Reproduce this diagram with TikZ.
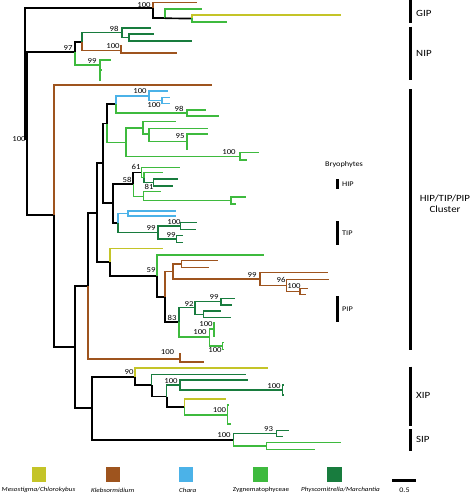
\documentclass[tikz,border=0pt]{standalone}
\usepackage{fontspec}
\setmainfont{Carlito}[FakeStretch=1.15]
\definecolor{cbr}{RGB}{158,84,30}
\definecolor{cye}{RGB}{196,196,40}
\definecolor{cbl}{RGB}{75,178,232}
\definecolor{cgr}{RGB}{62,186,62}
\definecolor{cdg}{RGB}{24,124,62}
\begin{document}
\begin{tikzpicture}[x=1pt,y=-1pt,
  tbk/.style={draw=black,line width=1.7pt},
  tbr/.style={draw=cbr,line width=1.4pt},
  tye/.style={draw=cye,line width=1.4pt},
  tbl/.style={draw=cbl,line width=1.4pt},
  tgr/.style={draw=cgr,line width=1.4pt},
  tdg/.style={draw=cdg,line width=1.4pt},
  sv/.style={font=\fontsize{7.6}{8}\selectfont,inner sep=0pt},
  grp/.style={font=\fontsize{9.5}{11}\selectfont,inner sep=0pt,anchor=west},
  bry/.style={font=\fontsize{7.2}{8}\selectfont,inner sep=0pt},
  leg/.style={font=\fontsize{6.2}{7}\selectfont\itshape,inner sep=0pt},
  bar/.style={line width=3pt},
  sbar/.style={line width=3.5pt}]
\fill[white] (0,0) rectangle (474,495);
\useasboundingbox (0,0) rectangle (474,495);
% ---- internal nodes
\coordinate (R) at (25,73.5);
\coordinate (G) at (153,8);
\coordinate (G2) at (165,18.3);
\coordinate (G3) at (192,18.5);
\coordinate (B) at (27,139);
\coordinate (N) at (75,52);
\coordinate (N1) at (82,41.7);
\coordinate (N3) at (122,32.7);
\coordinate (N5) at (129,37.5);
\coordinate (N4) at (121,50.7);
\coordinate (N2) at (100,65);
\coordinate (C) at (54,215);
\coordinate (D) at (75,347);
\coordinate (E) at (88,286);
\coordinate (E2) at (180,359);
\coordinate (F) at (96.7,213);
\coordinate (H) at (102.7,163.3);
\coordinate (I) at (107,123.5);
\coordinate (I1) at (116,104);
\coordinate (I3) at (149,96);
\coordinate (I5) at (162,100.5);
\coordinate (I4) at (187,113);
\coordinate (I2) at (126,142.5);
\coordinate (I6) at (143,128);
\coordinate (I8) at (149,134);
\coordinate (I9) at (187,141.5);
\coordinate (I7) at (240,156.5);
\coordinate (J) at (113,203.3);
\coordinate (K) at (133.3,184);
\coordinate (K1) at (141.7,172.5);
\coordinate (K3) at (144,177.6);
\coordinate (K4) at (153.3,182.5);
\coordinate (K2) at (143.3,196.7);
\coordinate (K5) at (231,200.5);
\coordinate (L) at (118,223);
\coordinate (L1) at (128,213.5);
\coordinate (L2) at (158,232.3);
\coordinate (L3) at (180.7,226);
\coordinate (L4) at (176.7,239);
\coordinate (Y) at (110,262);
\coordinate (Z) at (157,276);
\coordinate (P) at (165,296.7);
\coordinate (Q) at (173,271.3);
\coordinate (Q1) at (181.7,264);
\coordinate (Q2) at (260,279);
\coordinate (Q3) at (286.7,285.3);
\coordinate (Q4) at (300,291.3);
\coordinate (S) at (179,322);
\coordinate (S1) at (195,307.3);
\coordinate (S3) at (221,301.7);
\coordinate (S4) at (203.3,314.2);
\coordinate (S2) at (209.3,337);
\coordinate (S5) at (214,329);
\coordinate (S6) at (222.7,346);
\coordinate (X) at (91.7,408);
\coordinate (X1) at (135,376.7);
\coordinate (X2) at (151.7,385);
\coordinate (X3) at (166.7,396.5);
\coordinate (X4) at (180,385);
\coordinate (X6) at (282.7,390);
\coordinate (X5) at (184.3,407.3);
\coordinate (X7) at (227.7,415);
\coordinate (W) at (233.3,440);
\coordinate (W1) at (276.7,433.7);
\coordinate (W2) at (266.7,446);
% ---- GIP
\draw[tbk] (R) |- (G); \draw[tbk] (R) |- (B);
\draw[tbr] (G) |- (197,2.7);
\draw[tbk] (G) |- (G2);
\draw[tgr] (G2) |- (202,9);
\draw[tbk] (G2) -- (G3);
\draw[tye] (G3) |- (341,15);
\draw[tgr] (G3) |- (227,22);
% ---- NIP
\draw[tbk] (B) |- (N); \draw[tbk] (B) |- (C);
\draw[tbk] (N) |- (N1); \draw[tgr] (N) |- (N2);
\draw[tdg] (N1) |- (N3); \draw[tbr] (N1) |- (N4);
\draw[tdg] (N3) |- (151,28); \draw[tdg] (N3) |- (N5);
\draw[tdg] (N5) |- (154,34); \draw[tdg] (N5) |- (192,41);
\draw[tbr] (N4) |- (122,46); \draw[tbr] (N4) |- (177,53);
\draw[tgr] (N2) |- (111,60); \draw[tgr] (N2) |- (101,80); \draw[tgr] (N2) |- (102,70);
% ---- big clade
\draw[tbr] (C) |- (212,85); \draw[tbk] (C) |- (D);
\draw[tbk] (D) |- (E); \draw[tbk] (D) |- (X);
\draw[tbk] (E) |- (F); \draw[tbr] (E) |- (E2);
\draw[tbr] (E2) |- (181,353.5); \draw[tbr] (E2) |- (204,362);
\draw[tbk] (F) |- (H); \draw[tbk] (F) |- (Y);
\draw[tbk] (H) |- (I); \draw[tbk] (H) |- (J);
\draw[tbk] (I) |- (I1); \draw[tgr] (I) |- (I2);
\draw[tbl] (I1) |- (I3); \draw[tgr] (I1) |- (I4);
\draw[tbl] (I3) |- (168,91); \draw[tbl] (I3) |- (I5);
\draw[tbl] (I5) |- (170,97.3); \draw[tbl] (I5) |- (170,103.5);
\draw[tgr] (I4) |- (206,110); \draw[tgr] (I4) |- (219,116);
\draw[tgr] (I2) |- (I6); \draw[tgr] (I2) |- (I7);
\draw[tgr] (I6) |- (176,121.7); \draw[tgr] (I6) |- (I8);
\draw[tgr] (I8) |- (208,128.3); \draw[tgr] (I8) |- (I9);
\draw[tgr] (I9) |- (208,134); \draw[tgr] (I9) |- (188,149);
\draw[tgr] (I7) |- (259,152.7); \draw[tgr] (I7) |- (247,160);
\draw[tbk] (J) |- (K); \draw[tbk] (J) |- (L);
\draw[tbk] (K) |- (K1); \draw[tgr] (K) |- (K2);
\draw[tgr] (K1) |- (180,167.7); \draw[tgr] (K1) |- (K3);
\draw[tgr] (K3) |- (163.3,172.7); \draw[tdg] (K3) |- (K4);
\draw[tdg] (K4) |- (178.3,179); \draw[tdg] (K4) |- (172.7,186);
\draw[tgr] (K2) |- (161,191.7); \draw[tgr] (K2) |- (K5);
\draw[tgr] (K5) |- (245.7,197); \draw[tgr] (K5) |- (236,204);
\draw[tbl] (L) |- (L1); \draw[tdg] (L) |- (L2);
\draw[tbl] (L1) |- (176,211); \draw[tbl] (L1) |- (176,216);
\draw[tdg] (L2) |- (L3); \draw[tdg] (L2) |- (L4);
\draw[tdg] (L3) |- (196.7,222.7); \draw[tdg] (L3) |- (195.7,229.3);
\draw[tdg] (L4) |- (183.3,235.7); \draw[tdg] (L4) |- (183.3,242.3);
\draw[tye] (Y) |- (163,248.3); \draw[tbk] (Y) |- (Z);
\draw[tgr] (Z) |- (264.3,255); \draw[tbk] (Z) |- (P);
\draw[tbr] (P) |- (Q); \draw[tbk] (P) |- (S);
\draw[tbr] (Q) |- (Q1); \draw[tbr] (Q) |- (Q2);
\draw[tbr] (Q1) |- (218.3,260.7); \draw[tbr] (Q1) |- (209,267.3);
\draw[tbr] (Q2) |- (327.7,272.7); \draw[tbr] (Q2) |- (Q3);
\draw[tbr] (Q3) |- (329,279.3); \draw[tbr] (Q3) |- (Q4);
\draw[tbr] (Q4) |- (308,288.3); \draw[tbr] (Q4) |- (306,294.3);
\draw[tdg] (S) |- (S1); \draw[tgr] (S) |- (S2);
\draw[tdg] (S1) |- (S3); \draw[tdg] (S1) |- (S4);
\draw[tdg] (S3) |- (235,298.3); \draw[tdg] (S3) |- (231.7,305);
\draw[tdg] (S4) |- (221,311); \draw[tdg] (S4) |- (230.7,317.3);
\draw[tgr] (S2) |- (S5); \draw[tgr] (S2) |- (S6);
\draw[tgr] (S5) |- (215,322.7); \draw[tgr] (S5) |- (215,336);
\draw[tgr] (S6) |- (224,342.7); \draw[tgr] (S6) |- (224,349.3);
% ---- XIP
\draw[tbk] (X) |- (X1); \draw[tbk] (X) |- (W);
\draw[tye] (X1) |- (268.3,368); \draw[tbk] (X1) |- (X2);
\draw[tdg] (X2) |- (245.7,374.5); \draw[tbk] (X2) |- (X3);
\draw[tdg] (X3) |- (X4); \draw[tbk] (X3) |- (X5);
\draw[tdg] (X4) |- (247.7,380); \draw[tdg] (X4) |- (X6);
\draw[tdg] (X6) |- (284,385); \draw[tdg] (X6) |- (284,395);
\draw[tye] (X5) |- (226,399); \draw[tgr] (X5) |- (X7);
\draw[tgr] (X7) |- (229,405); \draw[tgr] (X7) |- (231,424);
% ---- SIP
\draw[tdg] (W) |- (W1); \draw[tgr] (W) |- (W2);
\draw[tdg] (W1) |- (289.3,430.7); \draw[tdg] (W1) |- (282.7,436.7);
\draw[tgr] (W2) |- (340.7,442.7); \draw[tgr] (W2) |- (315,449.3);
% ---- support values
\node[sv] (s1) at (144,5) {100};
\node[sv] (s2) at (114,29) {98};
\node[sv] (s3) at (113,46) {100};
\node[sv] (s4) at (68,48) {97};
\node[sv] (s5) at (92,61) {99};
\node[sv] (s6) at (19,139) {100};
\node[sv] (s7) at (140,91.5) {100};
\node[sv] (s8) at (154,105) {100};
\node[sv] (s9) at (179,109) {98};
\node[sv] (s10) at (180,136) {95};
\node[sv] (s11) at (229,152) {100};
\node[sv] (s12) at (136,167) {61};
\node[sv] (s13) at (127,180) {58};
\node[sv] (s14) at (149,187) {81};
\node[sv] (s15) at (151,228) {99};
\node[sv] (s16) at (174,222) {100};
\node[sv] (s17) at (171,235) {99};
\node[sv] (s18) at (151,270) {59};
\node[sv] (s19) at (252,275) {99};
\node[sv] (s20) at (281,280) {96};
\node[sv] (s21) at (294,286) {100};
\node[sv] (s22) at (189,304) {92};
\node[sv] (s23) at (214,297) {99};
\node[sv] (s24) at (172,317.5) {83};
\node[sv] (s25) at (206,324) {100};
\node[sv] (s26) at (200,332.5) {100};
\node[sv] (s27) at (215,350.5) {100};
\node[sv] (s28) at (167.5,352) {100};
\node[sv] (s29) at (129,372) {90};
\node[sv] (s30) at (171,381) {100};
\node[sv] (s31) at (274,386) {100};
\node[sv] (s32) at (219.5,410.5) {100};
\node[sv] (s33) at (224,435) {100};
\node[sv] (s34) at (268.5,429) {93};
% ---- group bars
\draw[bar] (410,0) -- (410,23.3);
\draw[bar] (410,26.7) -- (410,80);
\draw[bar] (410,89.3) -- (410,350);
\draw[bar] (410,366.7) -- (410,425.7);
\draw[bar] (410,429.3) -- (410,450.7);
\node[grp] (gip) at (416,13) {GIP};
\node[grp] (nip) at (416,53) {NIP};
\node[grp,anchor=center,align=center] (hip) at (445,204) {HIP/TIP/PIP\\Cluster};
\node[grp] (xip) at (416,395) {XIP};
\node[grp] (sip) at (416,439.3) {SIP};
% ---- bryophytes
\node[bry] (bryo) at (344,164.3) {Bryophytes};
\draw[sbar] (337.7,179.3) -- (337.7,189.3);
\draw[sbar] (337.7,221) -- (337.7,245);
\draw[sbar] (337.7,296) -- (337.7,321.7);
\node[bry,anchor=west] (bh) at (342,184.3) {HIP};
\node[bry,anchor=west] (bt) at (342,233) {TIP};
\node[bry,anchor=west] (bp) at (342,309.3) {PIP};
% ---- legend
\fill[cye] (31.7,467) rectangle (46,482);
\fill[cbr] (105.7,467) rectangle (120,482);
\fill[cbl] (179.3,467) rectangle (193.3,482);
\fill[cgr] (252.7,467) rectangle (267.7,482);
\fill[cdg] (327.3,467) rectangle (341.7,482);
\node[leg] (l1) at (38.5,490) {Mesostigma/Chlorokybus};
\node[leg] (l2) at (112.7,490) {Klebsormidium};
\node[leg] (l3) at (187.7,490) {Chara};
\node[leg,font=\fontsize{6.2}{7}\selectfont\upshape] (l4) at (261,490) {Zygnematophyceae};
\node[leg] (l5) at (340.5,490) {Physcomitrella/Marchantia};
\draw[line width=3pt] (392.3,480.7) -- (416,480.7);
\node[leg,font=\fontsize{7}{8}\selectfont\upshape] (l6) at (404.5,490) {0.5};
\end{tikzpicture}
\end{document}
